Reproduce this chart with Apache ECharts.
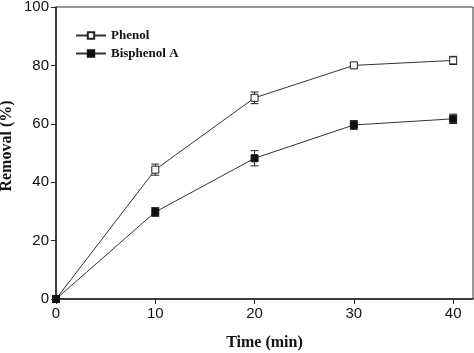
<!DOCTYPE html>
<html>
<head>
<meta charset="utf-8">
<script src="https://cdn.jsdelivr.net/npm/echarts@6/dist/echarts.min.js"></script>
<style>
  html, body { margin: 0; padding: 0; background: #fff; }
  #main { width: 474px; height: 353px; }
</style>
</head>
<body>
<div id="main"></div>
<script>
// time points (min)
var times = [0, 10, 20, 30, 40]
// removal (%)
var phenol = [0, 44.3, 68.9, 80.0, 81.7]
var phenolErr = [0, 1.9, 2.0, 0.9, 1.4]
var bisphenol = [0, 29.8, 48.2, 59.6, 61.7]
var bisphenolErr = [0, 1.5, 2.6, 1.5, 1.6]
var xTicks = [0, 10, 20, 30, 40]

function pairs(ys) {
  return times.map(function (t, i) { return [t, ys[i]] })
}
function errData(ys, errs) {
  return times.map(function (t, i) { return [t, ys[i] - errs[i], ys[i] + errs[i]] })
}
function errRender(params, api) {
  var lo = api.coord([api.value(0), api.value(1)])
  var hi = api.coord([api.value(0), api.value(2)])
  var w = 4
  var style = { stroke: '#222', lineWidth: 1, fill: null }
  return {
    type: 'group',
    children: [
      { type: 'line', shape: { x1: lo[0], y1: lo[1], x2: hi[0], y2: hi[1] }, style: style },
      { type: 'line', shape: { x1: lo[0] - w, y1: lo[1], x2: lo[0] + w, y2: lo[1] }, style: style },
      { type: 'line', shape: { x1: hi[0] - w, y1: hi[1], x2: hi[0] + w, y2: hi[1] }, style: style }
    ]
  }
}

var chart = echarts.init(document.getElementById('main'))
var serif = 'Liberation Serif'
var sans = 'Liberation Sans'
chart.setOption({
  animation: false,
  grid: {
    left: 56, right: 1, top: 7, bottom: 54,
    outerBoundsMode: 'none', containLabel: false,
    show: true, borderColor: '#333', borderWidth: 1
  },
  legend: {
    left: 70, top: 24,
    orient: 'vertical',
    itemWidth: 30, itemHeight: 8, itemGap: 5,
    data: ['Phenol', 'Bisphenol A'],
    textStyle: { fontFamily: serif, fontWeight: 'bold', fontSize: 13, color: '#111' }
  },
  xAxis: {
    type: 'value', min: 0, max: 42, interval: 10,
    name: 'Time (min)', nameLocation: 'middle', nameGap: 36, nameMoveOverlap: false,
    nameTextStyle: { fontFamily: serif, fontWeight: 'bold', fontSize: 16, color: '#111' },
    axisLine: { lineStyle: { color: '#222', width: 1.5 } },
    axisTick: { customValues: xTicks, length: 5, lineStyle: { color: '#222' } },
    axisLabel: { customValues: xTicks, fontFamily: sans, fontSize: 15, color: '#111', margin: 7 },
    splitLine: { show: false }
  },
  yAxis: {
    type: 'value', min: 0, max: 100, interval: 20,
    name: 'Removal (%)', nameLocation: 'middle', nameGap: 41, nameMoveOverlap: false,
    nameTextStyle: { fontFamily: serif, fontWeight: 'bold', fontSize: 16, color: '#111', padding: [0, 0, 0, 14] },
    axisLine: { show: true, lineStyle: { color: '#222', width: 1.5 } },
    axisTick: { show: true, length: 5, lineStyle: { color: '#222' } },
    axisLabel: { fontFamily: sans, fontSize: 15, color: '#111', margin: 7 },
    splitLine: { show: false }
  },
  series: [
    {
      name: 'Phenol', type: 'line', data: pairs(phenol),
      symbol: 'rect', symbolSize: 7,
      lineStyle: { color: '#333', width: 1 },
      itemStyle: { color: '#fff', borderColor: '#222', borderWidth: 1 },
      z: 3
    },
    {
      name: 'Bisphenol A', type: 'line', data: pairs(bisphenol),
      symbol: 'rect', symbolSize: 7,
      lineStyle: { color: '#333', width: 1 },
      itemStyle: { color: '#111', borderColor: '#111', borderWidth: 1 },
      z: 3
    },
    {
      type: 'custom', renderItem: errRender, data: errData(phenol, phenolErr), z: 2,
      encode: { x: 0, y: [1, 2] }
    },
    {
      type: 'custom', renderItem: errRender, data: errData(bisphenol, bisphenolErr), z: 2,
      encode: { x: 0, y: [1, 2] }
    }
  ]
})
</script>
</body>
</html>
